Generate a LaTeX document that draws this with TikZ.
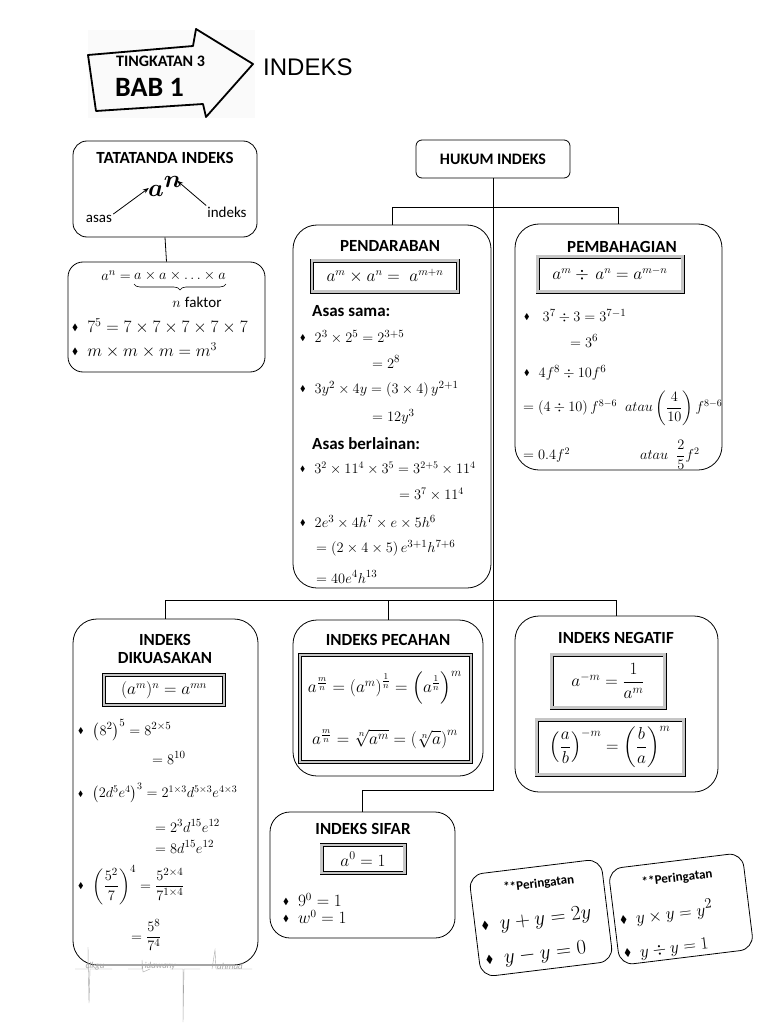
\documentclass[tikz,border=0pt]{standalone}
\usepackage{amsmath,amssymb}
\usepackage{fontspec}
\setmainfont{Carlito}
\newfontfamily\hdfont{Liberation Sans}
\usetikzlibrary{shadows,calc,arrows.meta,decorations.pathreplacing}
\newcommand\fsz[1]{\fontsize{#1}{#1}\selectfont}
\newcommand\bul{\raisebox{0.25ex}{\scalebox{0.55}{$\blacklozenge$}}\hspace{9pt}}
\begin{document}
\begin{tikzpicture}[x=1pt,y=-1pt,
 rbox/.style={draw, line width=0.8pt, rounded corners=24pt},
 ttl/.style={font=\bfseries\fsz{17}, inner sep=0pt},
 fbx/.style={draw, line width=0.9pt, double=gray!45, double distance=2.2pt, fill=white,
   drop shadow={shadow xshift=2pt, shadow yshift=-2pt, opacity=0.45}, inner sep=0pt},
 fml/.style={inner sep=0pt},
 itm/.style={anchor=west, inner sep=0pt, font=\fsz{15}},
 lbl/.style={font=\bfseries\fsz{17}, anchor=west, inner sep=0pt},
 conn/.style={line width=0.8pt},
 sig/.style={font=\itshape\fsz{9}, text=gray!70, inner sep=0pt}
]
\useasboundingbox (0,0) rectangle (768,1024);
\fill[white] (0,0) rectangle (768,1024);

% ---------- header ----------
\fill[gray!4] (88,30) rectangle (255,118);
\draw[line width=1.8pt, line join=round] (88,55) -- (193,46) -- (196,29) -- (253,64) -- (206,117) -- (203,104) -- (96,111) -- cycle;
\node[anchor=west, font=\bfseries\fsz{16}, inner sep=0pt] (ting) at (116,61) {TINGKATAN 3};
\node[anchor=west, font=\bfseries\fsz{28}, inner sep=0pt] (bab) at (115,87) {BAB 1};
\node[anchor=west, font=\hdfont\fsz{24}, inner sep=0pt] (judul) at (263,67) {INDEKS};

% ---------- tatatanda ----------
\node[rbox, rounded corners=14pt, minimum width=184pt, minimum height=96pt] (tata) at (165,189) {};
\node[ttl] (tatat) at (165,158) {TATATANDA INDEKS};
\node[font=\fsz{42}, inner sep=1pt] (an) at (165,186) {$\boldsymbol{a}^{\boldsymbol{n}}$};
\node[font=\fsz{15}, inner sep=1pt] (asas) at (99,219) {asas};
\node[font=\fsz{15}, inner sep=1pt] (indeks) at (227,212) {indeks};
\draw[-{Stealth[length=6pt]}, line width=0.8pt] (asas.north east) -- ($(an.west)+(2,2)$);
\draw[-{Stealth[length=6pt]}, line width=0.8pt] (indeks.north west) -- ($(an.north east)+(-6,6)$);

\node[rbox, rounded corners=15pt, minimum width=197pt, minimum height=110pt] (def) at (166.5,317) {};
\node[font=\fsz{15}, anchor=east, inner sep=0pt] (defl) at (131,276) {$a^n=$};
\node[font=\fsz{15}, anchor=west, inner sep=0pt] (defr) at (134,276) {$a\times a\times\ldots\times a$};
\draw[line width=0.6pt, decorate, decoration={brace, amplitude=6pt, mirror}] ($(defr.south west)+(0,3)$) -- ($(defr.south east)+(0,3)$);
\node[font=\fsz{15}, inner sep=0pt] (faktor) at (197,302) {$n\;\mathrm{faktor}$};
\node[itm, font=\fsz{16.5}] (d1) at (72,326) {\bul$7^5=7\times7\times7\times7\times7$};
\node[itm, font=\fsz{16.5}] (d2) at (72,350) {\bul$m\times m\times m=m^3$};

% ---------- hukum ----------
\node[draw, line width=0.8pt, rounded corners=6pt, minimum width=154pt, minimum height=38pt, font=\bfseries\fsz{16}] (hukum) at (493,159) {HUKUM INDEKS};

% ---------- pendaraban ----------
\node[rbox, minimum width=198pt, minimum height=363pt] (pendar) at (392,406.5) {};
\node[ttl] (pendart) at (390,246) {PENDARABAN};
\node[fbx, minimum width=146pt, minimum height=31pt, font=\fsz{16}] (f1) at (385,276) {$a^m\times a^n=\;a^{m+n}$};
\node[lbl] (l1) at (312,311) {Asas sama:};
\node[itm] (p1) at (300,337) {\bul$2^3\times2^5=2^{3+5}$};
\node[itm] (p2) at (372,362) {$=2^8$};
\node[itm] (p3) at (300,389) {\bul$3y^2\times4y=\left(3\times4\right)y^{2+1}$};
\node[itm] (p4) at (372,417) {$=12y^3$};
\node[lbl] (l2) at (312,444) {Asas berlainan:};
\node[itm, font=\fsz{14}] (p5) at (300,468) {\bul$3^2\times11^4\times3^5=3^{2+5}\times11^4$};
\node[itm, font=\fsz{14}] (p6) at (399,494) {$=3^7\times11^4$};
\node[itm] (p7) at (300,522) {\bul$2e^3\times4h^7\times e\times5h^6$};
\node[itm] (p8) at (316,548) {$=\left(2\times4\times5\right)e^{3+1}h^{7+6}$};
\node[itm] (p9) at (316,577) {$=40e^4h^{13}$};

% ---------- pembahagian ----------
\node[rbox, minimum width=207pt, minimum height=246pt] (pembah) at (618.5,347) {};
\node[ttl] (pembaht) at (622,247) {PEMBAHAGIAN};
\node[fbx, minimum width=145pt, minimum height=35pt, font=\fsz{16}] (f2) at (610,274) {$a^m\div\,a^n=a^{m-n}$};
\node[itm] (q1) at (524,316) {\bul\hspace{4pt}$3^7\div3=3^{7-1}$};
\node[itm] (q2) at (570,341) {$=3^6$};
\node[itm] (q3) at (524,373) {\bul$4f^8\div10f^6$};
\node[itm, font=\fsz{14.5}] (q4) at (523,408) {$=\left(4\div10\right)f^{8-6}\;\;atau\left(\dfrac{4}{10}\right)f^{8-6}$};
\node[itm, font=\fsz{14.5}] (q5) at (523,455) {$=0.4f^2$};
\node[itm, font=\fsz{14.5}] (q6) at (640,455) {$atau\;\;\dfrac{2}{5}f^2$};

% ---------- connectors ----------
\coordinate (j1) at (493,207);
\coordinate (j2) at (493,600);
\coordinate (j3) at (493,790);

% ---------- dikuasakan ----------
\node[rbox, minimum width=185pt, minimum height=346pt] (dikuas) at (165.5,792) {};
\node[ttl, align=center] (dikuast) at (165,649) {INDEKS\\[1pt]DIKUASAKAN};
\node[fbx, minimum width=120pt, minimum height=30pt, font=\fsz{16}] (f3) at (164,690) {$(a^m)^n=a^{mn}$};
\node[itm] (k1) at (78,730) {\bul$\left(8^2\right)^5=8^{2\times5}$};
\node[itm] (k2) at (152,758) {$=8^{10}$};
\node[itm, font=\fsz{14}] (k3) at (78,793) {\bul$\left(2d^5e^4\right)^3=2^{1\times3}d^{5\times3}e^{4\times3}$};
\node[itm] (k4) at (155,826) {$=2^3d^{15}e^{12}$};
\node[itm] (k5) at (155,847) {$=8d^{15}e^{12}$};
\node[itm] (k6) at (78,885) {\bul$\left(\dfrac{5^2}{7}\right)^{4}=\dfrac{5^{2\times4}}{7^{1\times4}}$};
\node[itm] (k7) at (131,935) {$=\dfrac{5^8}{7^4}$};

% ---------- pecahan ----------
\node[rbox, minimum width=190pt, minimum height=156pt] (pecahan) at (388,698) {};
\node[ttl] (pecahant) at (388,640) {INDEKS PECAHAN};
\node[fbx, minimum width=171pt, minimum height=107pt] (f4) at (385.5,708.5) {};
\node[fml, font=\fsz{18}] (f4a) at (385,688) {$a^{\frac{m}{n}}=\left(a^{m}\right)^{\frac{1}{n}}=\left(a^{\frac{1}{n}}\right)^{m}$};
\node[fml, font=\fsz{18}] (f4b) at (385,739) {$a^{\frac{m}{n}}=\sqrt[n]{a^{m}}=\left(\sqrt[n]{a}\right)^{m}$};

% ---------- negatif ----------
\node[rbox, minimum width=203pt, minimum height=176pt] (negatif) at (616.5,704) {};
\node[ttl] (negatift) at (616,638) {INDEKS NEGATIF};
\node[fbx, minimum width=113pt, minimum height=53pt, font=\fsz{17}] (f5) at (608,681) {$a^{-m}=\dfrac{1}{a^{m}}$};
\node[fbx, minimum width=147pt, minimum height=55pt, font=\fsz{17}] (f6) at (610,747) {$\left(\dfrac{a}{b}\right)^{-m}=\left(\dfrac{b}{a}\right)^{m}$};

% ---------- sifar ----------
\node[rbox, rounded corners=20pt, minimum width=185pt, minimum height=126pt] (sifar) at (362.5,875) {};
\node[ttl] (sifart) at (363,829) {INDEKS SIFAR};
\node[fbx, minimum width=83pt, minimum height=28pt, font=\fsz{17}] (f7) at (363,859) {$a^0=1$};
\node[itm, font=\fsz{16}] (s1) at (283,900) {\bul$9^0=1$};
\node[itm, font=\fsz{16}] (s2) at (283,917) {\bul$w^0=1$};

% connectors
\draw[conn] (tata.south) -- (def.north);
\draw[conn] (hukum.south) -- (j3) -| (sifar.north);
\draw[conn] (pendar.north) |- (pembah.north |- j1) -- (pembah.north);
\draw[conn] (dikuas.north) |- (negatif.north |- j2) -- (negatif.north);
\draw[conn] (pecahan.north) -- (pecahan.north |- j2);

% ---------- peringatan ----------
\begin{scope}[shift={(541,918)}, rotate=7, transform shape]
 \node[draw, line width=0.8pt, rounded corners=14pt, minimum width=133pt, minimum height=103pt] (per1) at (0,0) {};
 \node[font=\bfseries\fsz{13}, inner sep=0pt] (per1t) at (2,-34) {**Peringatan};
 \node[itm, font=\fsz{20}] (per1a) at (-60,2) {\bul\hspace{2pt}$y+y=2y$};
 \node[itm, font=\fsz{20}] (per1b) at (-60,36) {\bul\hspace{2pt}$y-y=0$};
\end{scope}
\begin{scope}[shift={(681,909)}, rotate=7, transform shape]
 \node[draw, line width=0.8pt, rounded corners=14pt, minimum width=135pt, minimum height=97pt] (per2) at (0,0) {};
 \node[font=\bfseries\fsz{13}, inner sep=0pt] (per2t) at (0,-31) {**Peringatan};
 \node[itm, font=\fsz{19}] (per2a) at (-62,3) {\bul$y\times y=y^2$};
 \node[itm, font=\fsz{19}] (per2b) at (-62,39) {\bul$y\div y=1$};
\end{scope}

% ---------- signature ----------
\draw[gray!70, line width=0.4pt] (75,969) -- (88,969) -- (88,947) -- (89,1003) -- (90,969) -- (112,969);
\draw[gray!70, line width=0.4pt] (128,969) -- (142,969) -- (142,960) -- (143,972) -- (150,969);
\draw[gray!70, line width=0.4pt] (170,969) -- (183,969) -- (183,1022) -- (184,969) -- (200,969);
\draw[gray!70, line width=0.4pt] (212,969) -- (215,950) -- (216,969) -- (252,969);
\node[sig] (sg1) at (95,966) {cikgu};
\node[sig] (sg2) at (160,966) {idawany};
\node[sig] (sg3) at (230,966) {ahmad};
\end{tikzpicture}
\end{document}
